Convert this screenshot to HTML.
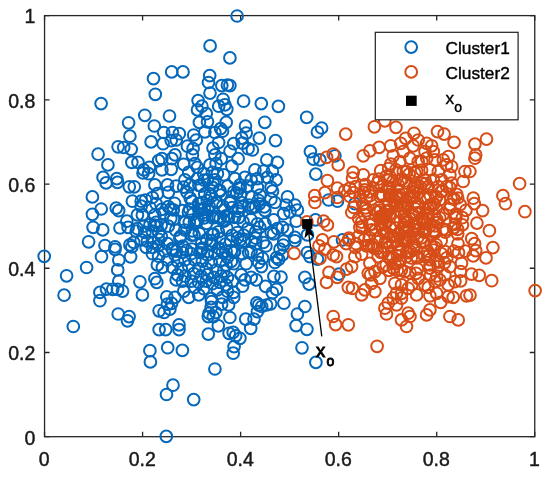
<!DOCTYPE html><html><head><meta charset="utf-8"><style>html,body{margin:0;padding:0;background:#fff;overflow:hidden}svg{display:block}</style></head><body><svg width="550" height="481" viewBox="0 0 550 481"><rect width="550" height="481" fill="#fff"/><g stroke="#262626" stroke-width="1.3" fill="none"><rect x="44.55" y="15.6" width="490.2" height="421.09999999999997"/><path d="M44.55 436.7v-5M44.55 15.6v5M44.55 436.70h5M534.75 436.70h-5M142.59 436.7v-5M142.59 15.6v5M44.55 352.48h5M534.75 352.48h-5M240.63 436.7v-5M240.63 15.6v5M44.55 268.26h5M534.75 268.26h-5M338.67 436.7v-5M338.67 15.6v5M44.55 184.04h5M534.75 184.04h-5M436.71 436.7v-5M436.71 15.6v5M44.55 99.82h5M534.75 99.82h-5M534.75 436.7v-5M534.75 15.6v5M44.55 15.60h5M534.75 15.60h-5"/></g><g fill="none" stroke="#0568BA" stroke-width="2.0"><circle cx="101.1" cy="103.6" r="5.85"/><circle cx="153.5" cy="78.6" r="5.85"/><circle cx="155.3" cy="94.3" r="5.85"/><circle cx="144.8" cy="115.3" r="5.85"/><circle cx="128.6" cy="122.8" r="5.85"/><circle cx="154.3" cy="126.0" r="5.85"/><circle cx="237.1" cy="16.0" r="5.85"/><circle cx="210.1" cy="45.9" r="5.85"/><circle cx="229.9" cy="57.9" r="5.85"/><circle cx="171.7" cy="71.9" r="5.85"/><circle cx="183.0" cy="71.9" r="5.85"/><circle cx="169.5" cy="116.0" r="5.85"/><circle cx="261.3" cy="103.6" r="5.85"/><circle cx="278.4" cy="106.4" r="5.85"/><circle cx="264.8" cy="122.3" r="5.85"/><circle cx="209.7" cy="75.6" r="5.85"/><circle cx="208.5" cy="82.5" r="5.85"/><circle cx="221.8" cy="85.6" r="5.85"/><circle cx="227.4" cy="85.0" r="5.85"/><circle cx="229.9" cy="85.6" r="5.85"/><circle cx="210.0" cy="93.1" r="5.85"/><circle cx="223.1" cy="99.3" r="5.85"/><circle cx="198.1" cy="100.6" r="5.85"/><circle cx="243.6" cy="101.2" r="5.85"/><circle cx="218.7" cy="106.2" r="5.85"/><circle cx="224.9" cy="104.9" r="5.85"/><circle cx="226.8" cy="109.3" r="5.85"/><circle cx="201.9" cy="106.2" r="5.85"/><circle cx="197.5" cy="109.9" r="5.85"/><circle cx="206.2" cy="113.7" r="5.85"/><circle cx="199.4" cy="122.4" r="5.85"/><circle cx="207.5" cy="121.8" r="5.85"/><circle cx="226.2" cy="122.4" r="5.85"/><circle cx="220.6" cy="128.6" r="5.85"/><circle cx="245.5" cy="126.1" r="5.85"/><circle cx="306.7" cy="117.3" r="5.85"/><circle cx="98.1" cy="154.2" r="5.85"/><circle cx="92.4" cy="196.9" r="5.85"/><circle cx="92.4" cy="214.3" r="5.85"/><circle cx="101.2" cy="209.0" r="5.85"/><circle cx="93.1" cy="227.3" r="5.85"/><circle cx="102.7" cy="229.9" r="5.85"/><circle cx="88.6" cy="241.8" r="5.85"/><circle cx="103.1" cy="177.4" r="5.85"/><circle cx="106.1" cy="182.9" r="5.85"/><circle cx="107.9" cy="164.9" r="5.85"/><circle cx="129.9" cy="136.2" r="5.85"/><circle cx="151.1" cy="141.9" r="5.85"/><circle cx="118.1" cy="146.8" r="5.85"/><circle cx="123.7" cy="147.5" r="5.85"/><circle cx="131.2" cy="149.3" r="5.85"/><circle cx="131.8" cy="162.4" r="5.85"/><circle cx="138.0" cy="162.4" r="5.85"/><circle cx="143.7" cy="169.9" r="5.85"/><circle cx="149.3" cy="167.4" r="5.85"/><circle cx="158.6" cy="160.6" r="5.85"/><circle cx="143.0" cy="173.0" r="5.85"/><circle cx="116.8" cy="178.6" r="5.85"/><circle cx="117.5" cy="182.4" r="5.85"/><circle cx="129.3" cy="186.8" r="5.85"/><circle cx="134.3" cy="186.8" r="5.85"/><circle cx="154.9" cy="184.9" r="5.85"/><circle cx="148.6" cy="173.7" r="5.85"/><circle cx="116.2" cy="208.1" r="5.85"/><circle cx="118.7" cy="210.6" r="5.85"/><circle cx="126.8" cy="221.2" r="5.85"/><circle cx="120.0" cy="228.0" r="5.85"/><circle cx="128.1" cy="227.4" r="5.85"/><circle cx="105.0" cy="245.5" r="5.85"/><circle cx="115.0" cy="246.8" r="5.85"/><circle cx="132.4" cy="201.2" r="5.85"/><circle cx="141.2" cy="201.2" r="5.85"/><circle cx="145.5" cy="200.0" r="5.85"/><circle cx="152.4" cy="197.5" r="5.85"/><circle cx="157.4" cy="193.7" r="5.85"/><circle cx="137.4" cy="214.9" r="5.85"/><circle cx="142.4" cy="214.9" r="5.85"/><circle cx="141.2" cy="206.2" r="5.85"/><circle cx="149.9" cy="207.5" r="5.85"/><circle cx="156.1" cy="203.7" r="5.85"/><circle cx="154.9" cy="214.9" r="5.85"/><circle cx="137.4" cy="228.7" r="5.85"/><circle cx="143.7" cy="226.2" r="5.85"/><circle cx="149.9" cy="224.9" r="5.85"/><circle cx="156.1" cy="222.4" r="5.85"/><circle cx="136.2" cy="231.2" r="5.85"/><circle cx="144.9" cy="232.4" r="5.85"/><circle cx="152.4" cy="231.2" r="5.85"/><circle cx="158.6" cy="232.4" r="5.85"/><circle cx="133.7" cy="242.4" r="5.85"/><circle cx="129.9" cy="244.9" r="5.85"/><circle cx="141.2" cy="239.9" r="5.85"/><circle cx="147.4" cy="241.1" r="5.85"/><circle cx="153.6" cy="242.4" r="5.85"/><circle cx="158.6" cy="245.6" r="5.85"/><circle cx="146.2" cy="247.4" r="5.85"/><circle cx="163.7" cy="132.5" r="5.85"/><circle cx="172.5" cy="132.5" r="5.85"/><circle cx="179.3" cy="133.7" r="5.85"/><circle cx="171.2" cy="140.6" r="5.85"/><circle cx="176.2" cy="140.0" r="5.85"/><circle cx="163.1" cy="143.7" r="5.85"/><circle cx="193.7" cy="135.0" r="5.85"/><circle cx="196.2" cy="140.0" r="5.85"/><circle cx="204.9" cy="131.9" r="5.85"/><circle cx="214.9" cy="132.5" r="5.85"/><circle cx="218.6" cy="142.5" r="5.85"/><circle cx="213.0" cy="148.1" r="5.85"/><circle cx="214.9" cy="154.9" r="5.85"/><circle cx="187.4" cy="146.2" r="5.85"/><circle cx="193.1" cy="148.7" r="5.85"/><circle cx="192.4" cy="154.9" r="5.85"/><circle cx="175.0" cy="154.9" r="5.85"/><circle cx="171.9" cy="158.7" r="5.85"/><circle cx="161.9" cy="158.7" r="5.85"/><circle cx="183.7" cy="164.3" r="5.85"/><circle cx="171.2" cy="169.3" r="5.85"/><circle cx="161.9" cy="169.9" r="5.85"/><circle cx="194.9" cy="163.7" r="5.85"/><circle cx="197.4" cy="167.4" r="5.85"/><circle cx="209.9" cy="164.9" r="5.85"/><circle cx="216.1" cy="163.7" r="5.85"/><circle cx="188.7" cy="172.4" r="5.85"/><circle cx="203.7" cy="173.7" r="5.85"/><circle cx="212.4" cy="172.4" r="5.85"/><circle cx="217.4" cy="173.7" r="5.85"/><circle cx="184.9" cy="179.9" r="5.85"/><circle cx="197.4" cy="178.6" r="5.85"/><circle cx="207.4" cy="179.9" r="5.85"/><circle cx="214.9" cy="179.9" r="5.85"/><circle cx="167.5" cy="184.9" r="5.85"/><circle cx="176.2" cy="186.1" r="5.85"/><circle cx="189.9" cy="184.9" r="5.85"/><circle cx="201.2" cy="186.1" r="5.85"/><circle cx="212.4" cy="187.4" r="5.85"/><circle cx="222.5" cy="131.2" r="5.85"/><circle cx="233.7" cy="143.7" r="5.85"/><circle cx="230.0" cy="151.2" r="5.85"/><circle cx="241.8" cy="138.1" r="5.85"/><circle cx="246.2" cy="133.1" r="5.85"/><circle cx="242.5" cy="143.1" r="5.85"/><circle cx="248.1" cy="148.7" r="5.85"/><circle cx="252.4" cy="150.0" r="5.85"/><circle cx="259.3" cy="138.1" r="5.85"/><circle cx="275.5" cy="140.6" r="5.85"/><circle cx="238.1" cy="158.7" r="5.85"/><circle cx="221.2" cy="158.7" r="5.85"/><circle cx="231.9" cy="166.2" r="5.85"/><circle cx="266.8" cy="159.9" r="5.85"/><circle cx="277.4" cy="162.4" r="5.85"/><circle cx="254.9" cy="169.9" r="5.85"/><circle cx="263.7" cy="171.2" r="5.85"/><circle cx="272.4" cy="171.2" r="5.85"/><circle cx="223.7" cy="174.9" r="5.85"/><circle cx="235.0" cy="178.6" r="5.85"/><circle cx="244.9" cy="177.4" r="5.85"/><circle cx="251.2" cy="179.9" r="5.85"/><circle cx="257.4" cy="178.6" r="5.85"/><circle cx="267.4" cy="177.4" r="5.85"/><circle cx="276.1" cy="179.9" r="5.85"/><circle cx="227.5" cy="186.1" r="5.85"/><circle cx="240.0" cy="184.9" r="5.85"/><circle cx="247.4" cy="186.1" r="5.85"/><circle cx="257.4" cy="187.4" r="5.85"/><circle cx="271.1" cy="187.4" r="5.85"/><circle cx="317.4" cy="132.0" r="5.85"/><circle cx="321.6" cy="128.0" r="5.85"/><circle cx="310.4" cy="151.6" r="5.85"/><circle cx="313.3" cy="159.1" r="5.85"/><circle cx="319.9" cy="159.9" r="5.85"/><circle cx="334.9" cy="155.8" r="5.85"/><circle cx="315.8" cy="174.1" r="5.85"/><circle cx="272.5" cy="191.2" r="5.85"/><circle cx="287.5" cy="196.9" r="5.85"/><circle cx="275.0" cy="202.5" r="5.85"/><circle cx="286.2" cy="205.0" r="5.85"/><circle cx="294.9" cy="205.0" r="5.85"/><circle cx="297.4" cy="210.0" r="5.85"/><circle cx="283.7" cy="213.7" r="5.85"/><circle cx="290.0" cy="211.8" r="5.85"/><circle cx="273.7" cy="219.9" r="5.85"/><circle cx="282.5" cy="227.4" r="5.85"/><circle cx="277.5" cy="228.7" r="5.85"/><circle cx="296.2" cy="221.2" r="5.85"/><circle cx="315.5" cy="219.9" r="5.85"/><circle cx="307.4" cy="234.9" r="5.85"/><circle cx="294.9" cy="237.4" r="5.85"/><circle cx="283.7" cy="241.1" r="5.85"/><circle cx="271.2" cy="232.4" r="5.85"/><circle cx="328.6" cy="200.0" r="5.85"/><circle cx="44.2" cy="256.3" r="5.85"/><circle cx="66.6" cy="275.8" r="5.85"/><circle cx="86.6" cy="267.5" r="5.85"/><circle cx="64.1" cy="295.2" r="5.85"/><circle cx="101.5" cy="256.7" r="5.85"/><circle cx="118.8" cy="260.0" r="5.85"/><circle cx="117.7" cy="269.9" r="5.85"/><circle cx="118.8" cy="281.1" r="5.85"/><circle cx="99.9" cy="292.4" r="5.85"/><circle cx="106.5" cy="289.1" r="5.85"/><circle cx="112.8" cy="289.3" r="5.85"/><circle cx="99.9" cy="300.7" r="5.85"/><circle cx="118.2" cy="314.0" r="5.85"/><circle cx="73.3" cy="326.5" r="5.85"/><circle cx="115.0" cy="249.4" r="5.85"/><circle cx="122.5" cy="291.1" r="5.85"/><circle cx="117.5" cy="289.3" r="5.85"/><circle cx="131.8" cy="246.9" r="5.85"/><circle cx="130.6" cy="256.8" r="5.85"/><circle cx="139.9" cy="281.8" r="5.85"/><circle cx="142.4" cy="294.9" r="5.85"/><circle cx="154.9" cy="278.7" r="5.85"/><circle cx="156.8" cy="282.4" r="5.85"/><circle cx="152.4" cy="247.5" r="5.85"/><circle cx="152.4" cy="253.7" r="5.85"/><circle cx="158.6" cy="256.2" r="5.85"/><circle cx="157.4" cy="264.9" r="5.85"/><circle cx="162.4" cy="267.4" r="5.85"/><circle cx="167.4" cy="260.0" r="5.85"/><circle cx="164.9" cy="251.2" r="5.85"/><circle cx="167.4" cy="243.7" r="5.85"/><circle cx="166.8" cy="296.8" r="5.85"/><circle cx="233.7" cy="252.5" r="5.85"/><circle cx="242.5" cy="253.7" r="5.85"/><circle cx="248.7" cy="252.5" r="5.85"/><circle cx="257.4" cy="255.0" r="5.85"/><circle cx="233.7" cy="263.7" r="5.85"/><circle cx="246.2" cy="263.7" r="5.85"/><circle cx="258.7" cy="262.5" r="5.85"/><circle cx="261.4" cy="266.6" r="5.85"/><circle cx="274.9" cy="262.5" r="5.85"/><circle cx="278.6" cy="259.4" r="5.85"/><circle cx="282.4" cy="255.0" r="5.85"/><circle cx="241.2" cy="274.9" r="5.85"/><circle cx="245.0" cy="279.9" r="5.85"/><circle cx="251.2" cy="277.4" r="5.85"/><circle cx="256.2" cy="279.9" r="5.85"/><circle cx="242.5" cy="286.2" r="5.85"/><circle cx="232.5" cy="281.2" r="5.85"/><circle cx="273.9" cy="276.4" r="5.85"/><circle cx="281.0" cy="277.1" r="5.85"/><circle cx="265.6" cy="286.4" r="5.85"/><circle cx="276.4" cy="289.3" r="5.85"/><circle cx="272.4" cy="292.8" r="5.85"/><circle cx="233.7" cy="292.4" r="5.85"/><circle cx="233.7" cy="297.4" r="5.85"/><circle cx="256.8" cy="302.9" r="5.85"/><circle cx="258.7" cy="304.9" r="5.85"/><circle cx="270.6" cy="303.8" r="5.85"/><circle cx="283.9" cy="303.2" r="5.85"/><circle cx="175.0" cy="297.4" r="5.85"/><circle cx="183.7" cy="291.2" r="5.85"/><circle cx="188.7" cy="297.4" r="5.85"/><circle cx="198.7" cy="294.9" r="5.85"/><circle cx="211.2" cy="298.6" r="5.85"/><circle cx="222.4" cy="297.4" r="5.85"/><circle cx="227.4" cy="291.2" r="5.85"/><circle cx="228.6" cy="304.9" r="5.85"/><circle cx="211.2" cy="307.4" r="5.85"/><circle cx="129.1" cy="316.6" r="5.85"/><circle cx="127.5" cy="320.8" r="5.85"/><circle cx="159.1" cy="310.8" r="5.85"/><circle cx="164.1" cy="312.5" r="5.85"/><circle cx="169.9" cy="309.1" r="5.85"/><circle cx="167.4" cy="304.2" r="5.85"/><circle cx="171.6" cy="303.3" r="5.85"/><circle cx="159.1" cy="329.6" r="5.85"/><circle cx="165.7" cy="329.6" r="5.85"/><circle cx="179.0" cy="324.9" r="5.85"/><circle cx="179.0" cy="329.6" r="5.85"/><circle cx="149.9" cy="350.7" r="5.85"/><circle cx="150.4" cy="361.9" r="5.85"/><circle cx="167.7" cy="347.7" r="5.85"/><circle cx="182.4" cy="350.4" r="5.85"/><circle cx="211.6" cy="301.7" r="5.85"/><circle cx="221.6" cy="304.2" r="5.85"/><circle cx="209.1" cy="313.3" r="5.85"/><circle cx="215.8" cy="312.5" r="5.85"/><circle cx="208.3" cy="316.6" r="5.85"/><circle cx="213.3" cy="316.6" r="5.85"/><circle cx="229.9" cy="317.5" r="5.85"/><circle cx="218.3" cy="325.8" r="5.85"/><circle cx="208.3" cy="334.1" r="5.85"/><circle cx="229.1" cy="333.3" r="5.85"/><circle cx="233.2" cy="332.4" r="5.85"/><circle cx="235.7" cy="335.8" r="5.85"/><circle cx="239.9" cy="338.3" r="5.85"/><circle cx="234.1" cy="346.6" r="5.85"/><circle cx="233.2" cy="353.2" r="5.85"/><circle cx="245.7" cy="319.1" r="5.85"/><circle cx="254.0" cy="319.1" r="5.85"/><circle cx="250.7" cy="328.3" r="5.85"/><circle cx="257.4" cy="311.6" r="5.85"/><circle cx="266.5" cy="305.0" r="5.85"/><circle cx="214.9" cy="369.0" r="5.85"/><circle cx="263.3" cy="242.5" r="5.85"/><circle cx="283.3" cy="245.0" r="5.85"/><circle cx="280.0" cy="249.1" r="5.85"/><circle cx="294.9" cy="240.8" r="5.85"/><circle cx="307.4" cy="252.5" r="5.85"/><circle cx="309.9" cy="256.6" r="5.85"/><circle cx="317.4" cy="259.1" r="5.85"/><circle cx="276.6" cy="257.5" r="5.85"/><circle cx="262.5" cy="258.3" r="5.85"/><circle cx="304.9" cy="277.4" r="5.85"/><circle cx="309.1" cy="284.1" r="5.85"/><circle cx="261.7" cy="306.5" r="5.85"/><circle cx="304.9" cy="306.5" r="5.85"/><circle cx="297.4" cy="314.0" r="5.85"/><circle cx="339.0" cy="274.1" r="5.85"/><circle cx="296.1" cy="325.6" r="5.85"/><circle cx="306.9" cy="329.3" r="5.85"/><circle cx="302.0" cy="347.8" r="5.85"/><circle cx="315.9" cy="362.4" r="5.85"/><circle cx="173.0" cy="385.2" r="5.85"/><circle cx="166.5" cy="394.5" r="5.85"/><circle cx="193.7" cy="399.6" r="5.85"/><circle cx="166.3" cy="436.4" r="5.85"/><circle cx="337.5" cy="201.2" r="5.85"/><circle cx="354.9" cy="203.7" r="5.85"/><circle cx="342.5" cy="239.9" r="5.85"/><circle cx="175.0" cy="255.0" r="5.85"/><circle cx="182.5" cy="252.5" r="5.85"/><circle cx="191.2" cy="253.7" r="5.85"/><circle cx="199.9" cy="252.5" r="5.85"/><circle cx="207.4" cy="255.0" r="5.85"/><circle cx="214.9" cy="253.7" r="5.85"/><circle cx="222.4" cy="252.5" r="5.85"/><circle cx="227.4" cy="257.5" r="5.85"/><circle cx="177.5" cy="261.2" r="5.85"/><circle cx="185.0" cy="260.0" r="5.85"/><circle cx="194.9" cy="260.0" r="5.85"/><circle cx="202.4" cy="261.2" r="5.85"/><circle cx="211.2" cy="262.5" r="5.85"/><circle cx="219.9" cy="261.2" r="5.85"/><circle cx="226.1" cy="265.0" r="5.85"/><circle cx="172.5" cy="267.5" r="5.85"/><circle cx="181.2" cy="268.7" r="5.85"/><circle cx="188.7" cy="266.2" r="5.85"/><circle cx="198.7" cy="268.7" r="5.85"/><circle cx="206.2" cy="268.7" r="5.85"/><circle cx="216.2" cy="270.0" r="5.85"/><circle cx="223.6" cy="271.2" r="5.85"/><circle cx="177.5" cy="274.9" r="5.85"/><circle cx="185.0" cy="276.2" r="5.85"/><circle cx="193.7" cy="273.7" r="5.85"/><circle cx="201.2" cy="276.2" r="5.85"/><circle cx="207.4" cy="274.9" r="5.85"/><circle cx="213.7" cy="277.4" r="5.85"/><circle cx="221.1" cy="276.2" r="5.85"/><circle cx="227.4" cy="277.4" r="5.85"/><circle cx="176.2" cy="279.9" r="5.85"/><circle cx="182.5" cy="281.2" r="5.85"/><circle cx="191.2" cy="281.2" r="5.85"/><circle cx="198.7" cy="282.4" r="5.85"/><circle cx="206.2" cy="281.2" r="5.85"/><circle cx="212.4" cy="283.7" r="5.85"/><circle cx="219.9" cy="282.4" r="5.85"/><circle cx="226.1" cy="284.9" r="5.85"/><circle cx="194.9" cy="287.4" r="5.85"/><circle cx="203.7" cy="288.7" r="5.85"/><circle cx="217.4" cy="289.9" r="5.85"/><circle cx="154.2" cy="225.2" r="5.85"/><circle cx="161.9" cy="209.4" r="5.85"/><circle cx="163.8" cy="213.5" r="5.85"/><circle cx="156.3" cy="226.0" r="5.85"/><circle cx="161.2" cy="225.1" r="5.85"/><circle cx="161.3" cy="236.7" r="5.85"/><circle cx="158.7" cy="239.3" r="5.85"/><circle cx="168.4" cy="192.3" r="5.85"/><circle cx="174.5" cy="203.3" r="5.85"/><circle cx="170.6" cy="209.1" r="5.85"/><circle cx="168.3" cy="206.7" r="5.85"/><circle cx="173.3" cy="209.9" r="5.85"/><circle cx="170.8" cy="218.6" r="5.85"/><circle cx="173.5" cy="219.5" r="5.85"/><circle cx="168.3" cy="226.1" r="5.85"/><circle cx="175.7" cy="230.2" r="5.85"/><circle cx="179.9" cy="238.3" r="5.85"/><circle cx="172.0" cy="248.7" r="5.85"/><circle cx="176.5" cy="251.2" r="5.85"/><circle cx="173.1" cy="250.0" r="5.85"/><circle cx="183.6" cy="187.1" r="5.85"/><circle cx="190.2" cy="198.1" r="5.85"/><circle cx="187.1" cy="192.4" r="5.85"/><circle cx="189.6" cy="209.0" r="5.85"/><circle cx="182.1" cy="210.6" r="5.85"/><circle cx="188.4" cy="212.1" r="5.85"/><circle cx="185.3" cy="222.1" r="5.85"/><circle cx="189.3" cy="222.3" r="5.85"/><circle cx="184.7" cy="221.9" r="5.85"/><circle cx="180.5" cy="236.4" r="5.85"/><circle cx="191.8" cy="235.1" r="5.85"/><circle cx="184.7" cy="230.0" r="5.85"/><circle cx="191.8" cy="249.2" r="5.85"/><circle cx="186.5" cy="250.3" r="5.85"/><circle cx="182.8" cy="246.2" r="5.85"/><circle cx="198.9" cy="185.5" r="5.85"/><circle cx="198.6" cy="203.5" r="5.85"/><circle cx="192.1" cy="201.4" r="5.85"/><circle cx="201.8" cy="202.6" r="5.85"/><circle cx="201.7" cy="210.2" r="5.85"/><circle cx="198.7" cy="209.1" r="5.85"/><circle cx="192.7" cy="214.4" r="5.85"/><circle cx="194.4" cy="222.1" r="5.85"/><circle cx="197.8" cy="220.3" r="5.85"/><circle cx="196.2" cy="222.5" r="5.85"/><circle cx="199.3" cy="233.5" r="5.85"/><circle cx="192.3" cy="230.8" r="5.85"/><circle cx="194.1" cy="235.0" r="5.85"/><circle cx="201.6" cy="249.6" r="5.85"/><circle cx="201.8" cy="243.1" r="5.85"/><circle cx="202.1" cy="248.1" r="5.85"/><circle cx="204.2" cy="180.2" r="5.85"/><circle cx="213.1" cy="183.0" r="5.85"/><circle cx="211.5" cy="196.1" r="5.85"/><circle cx="204.8" cy="193.9" r="5.85"/><circle cx="210.3" cy="194.0" r="5.85"/><circle cx="207.3" cy="200.5" r="5.85"/><circle cx="207.9" cy="209.7" r="5.85"/><circle cx="204.3" cy="208.6" r="5.85"/><circle cx="209.1" cy="206.3" r="5.85"/><circle cx="205.3" cy="214.8" r="5.85"/><circle cx="206.5" cy="223.3" r="5.85"/><circle cx="213.8" cy="216.2" r="5.85"/><circle cx="204.2" cy="217.8" r="5.85"/><circle cx="212.6" cy="217.9" r="5.85"/><circle cx="212.1" cy="234.5" r="5.85"/><circle cx="206.6" cy="239.7" r="5.85"/><circle cx="213.6" cy="234.2" r="5.85"/><circle cx="211.8" cy="244.7" r="5.85"/><circle cx="210.9" cy="243.9" r="5.85"/><circle cx="211.6" cy="240.7" r="5.85"/><circle cx="207.6" cy="251.6" r="5.85"/><circle cx="219.7" cy="190.3" r="5.85"/><circle cx="219.7" cy="191.3" r="5.85"/><circle cx="221.0" cy="195.0" r="5.85"/><circle cx="216.1" cy="202.5" r="5.85"/><circle cx="216.5" cy="201.8" r="5.85"/><circle cx="222.8" cy="206.1" r="5.85"/><circle cx="226.4" cy="215.7" r="5.85"/><circle cx="224.4" cy="210.1" r="5.85"/><circle cx="220.2" cy="218.5" r="5.85"/><circle cx="224.1" cy="221.2" r="5.85"/><circle cx="218.3" cy="217.3" r="5.85"/><circle cx="224.0" cy="219.6" r="5.85"/><circle cx="219.9" cy="238.5" r="5.85"/><circle cx="226.8" cy="228.2" r="5.85"/><circle cx="218.4" cy="231.9" r="5.85"/><circle cx="225.4" cy="244.1" r="5.85"/><circle cx="218.6" cy="248.1" r="5.85"/><circle cx="226.1" cy="251.2" r="5.85"/><circle cx="238.6" cy="188.2" r="5.85"/><circle cx="233.8" cy="191.8" r="5.85"/><circle cx="236.7" cy="193.0" r="5.85"/><circle cx="230.0" cy="202.9" r="5.85"/><circle cx="230.6" cy="201.1" r="5.85"/><circle cx="238.1" cy="208.4" r="5.85"/><circle cx="232.1" cy="207.5" r="5.85"/><circle cx="238.4" cy="211.2" r="5.85"/><circle cx="238.6" cy="217.6" r="5.85"/><circle cx="234.6" cy="217.3" r="5.85"/><circle cx="228.5" cy="216.9" r="5.85"/><circle cx="237.5" cy="237.9" r="5.85"/><circle cx="232.1" cy="235.4" r="5.85"/><circle cx="237.4" cy="232.5" r="5.85"/><circle cx="230.7" cy="241.0" r="5.85"/><circle cx="231.2" cy="250.7" r="5.85"/><circle cx="234.8" cy="251.1" r="5.85"/><circle cx="231.3" cy="261.4" r="5.85"/><circle cx="240.1" cy="188.0" r="5.85"/><circle cx="241.4" cy="202.6" r="5.85"/><circle cx="240.5" cy="194.9" r="5.85"/><circle cx="251.9" cy="197.1" r="5.85"/><circle cx="242.0" cy="206.9" r="5.85"/><circle cx="248.9" cy="205.2" r="5.85"/><circle cx="250.9" cy="208.5" r="5.85"/><circle cx="250.9" cy="219.5" r="5.85"/><circle cx="243.0" cy="221.7" r="5.85"/><circle cx="247.8" cy="228.5" r="5.85"/><circle cx="240.1" cy="239.8" r="5.85"/><circle cx="243.5" cy="235.2" r="5.85"/><circle cx="243.8" cy="240.8" r="5.85"/><circle cx="251.0" cy="251.6" r="5.85"/><circle cx="251.6" cy="241.3" r="5.85"/><circle cx="259.4" cy="203.8" r="5.85"/><circle cx="258.5" cy="200.3" r="5.85"/><circle cx="259.9" cy="195.1" r="5.85"/><circle cx="255.7" cy="207.0" r="5.85"/><circle cx="253.0" cy="207.4" r="5.85"/><circle cx="257.4" cy="223.8" r="5.85"/><circle cx="259.7" cy="227.3" r="5.85"/><circle cx="255.7" cy="231.9" r="5.85"/><circle cx="255.8" cy="238.2" r="5.85"/><circle cx="255.6" cy="244.0" r="5.85"/><circle cx="270.9" cy="199.2" r="5.85"/><circle cx="264.2" cy="206.9" r="5.85"/><circle cx="264.9" cy="210.6" r="5.85"/><circle cx="264.9" cy="223.6" r="5.85"/><circle cx="273.5" cy="233.9" r="5.85"/><circle cx="265.9" cy="246.0" r="5.85"/><circle cx="287.4" cy="230.1" r="5.85"/></g><g fill="none" stroke="#D74D17" stroke-width="2.0"><circle cx="345.7" cy="134.1" r="5.85"/><circle cx="326.6" cy="157.4" r="5.85"/><circle cx="333.2" cy="154.1" r="5.85"/><circle cx="338.2" cy="164.9" r="5.85"/><circle cx="327.4" cy="180.7" r="5.85"/><circle cx="353.2" cy="172.4" r="5.85"/><circle cx="314.7" cy="195.6" r="5.85"/><circle cx="324.9" cy="192.6" r="5.85"/><circle cx="337.4" cy="188.2" r="5.85"/><circle cx="344.9" cy="190.6" r="5.85"/><circle cx="349.9" cy="188.2" r="5.85"/><circle cx="355.7" cy="186.5" r="5.85"/><circle cx="314.9" cy="202.5" r="5.85"/><circle cx="323.6" cy="221.2" r="5.85"/><circle cx="327.4" cy="224.9" r="5.85"/><circle cx="306.9" cy="221.9" r="5.85"/><circle cx="322.4" cy="239.9" r="5.85"/><circle cx="294.1" cy="253.3" r="5.85"/><circle cx="319.0" cy="245.8" r="5.85"/><circle cx="324.9" cy="249.1" r="5.85"/><circle cx="333.9" cy="241.8" r="5.85"/><circle cx="319.9" cy="258.3" r="5.85"/><circle cx="333.2" cy="255.0" r="5.85"/><circle cx="336.5" cy="256.6" r="5.85"/><circle cx="329.0" cy="272.4" r="5.85"/><circle cx="326.5" cy="282.4" r="5.85"/><circle cx="337.3" cy="277.4" r="5.85"/><circle cx="333.2" cy="316.5" r="5.85"/><circle cx="335.6" cy="324.6" r="5.85"/><circle cx="414.0" cy="133.3" r="5.85"/><circle cx="363.3" cy="155.8" r="5.85"/><circle cx="369.9" cy="150.8" r="5.85"/><circle cx="379.1" cy="147.4" r="5.85"/><circle cx="390.7" cy="145.8" r="5.85"/><circle cx="400.7" cy="143.3" r="5.85"/><circle cx="405.7" cy="138.3" r="5.85"/><circle cx="413.2" cy="145.8" r="5.85"/><circle cx="418.2" cy="140.0" r="5.85"/><circle cx="393.2" cy="155.8" r="5.85"/><circle cx="403.2" cy="151.6" r="5.85"/><circle cx="409.9" cy="158.3" r="5.85"/><circle cx="390.7" cy="164.1" r="5.85"/><circle cx="399.9" cy="161.6" r="5.85"/><circle cx="380.7" cy="170.7" r="5.85"/><circle cx="352.5" cy="178.2" r="5.85"/><circle cx="363.3" cy="174.9" r="5.85"/><circle cx="373.3" cy="179.9" r="5.85"/><circle cx="389.9" cy="176.5" r="5.85"/><circle cx="396.5" cy="173.2" r="5.85"/><circle cx="406.5" cy="171.6" r="5.85"/><circle cx="414.8" cy="173.2" r="5.85"/><circle cx="418.2" cy="161.6" r="5.85"/><circle cx="364.9" cy="189.9" r="5.85"/><circle cx="373.3" cy="188.2" r="5.85"/><circle cx="381.6" cy="186.5" r="5.85"/><circle cx="389.9" cy="188.2" r="5.85"/><circle cx="398.2" cy="184.9" r="5.85"/><circle cx="406.5" cy="183.2" r="5.85"/><circle cx="414.8" cy="186.5" r="5.85"/><circle cx="350.0" cy="196.5" r="5.85"/><circle cx="360.0" cy="196.5" r="5.85"/><circle cx="369.9" cy="195.7" r="5.85"/><circle cx="379.9" cy="196.5" r="5.85"/><circle cx="389.9" cy="196.5" r="5.85"/><circle cx="399.9" cy="194.8" r="5.85"/><circle cx="409.9" cy="196.5" r="5.85"/><circle cx="418.2" cy="193.2" r="5.85"/><circle cx="437.5" cy="131.6" r="5.85"/><circle cx="444.1" cy="134.1" r="5.85"/><circle cx="454.1" cy="142.4" r="5.85"/><circle cx="474.9" cy="144.1" r="5.85"/><circle cx="486.5" cy="139.1" r="5.85"/><circle cx="475.7" cy="154.9" r="5.85"/><circle cx="474.9" cy="158.2" r="5.85"/><circle cx="426.7" cy="143.3" r="5.85"/><circle cx="431.6" cy="145.8" r="5.85"/><circle cx="425.0" cy="151.6" r="5.85"/><circle cx="433.3" cy="151.6" r="5.85"/><circle cx="426.7" cy="158.2" r="5.85"/><circle cx="435.0" cy="159.9" r="5.85"/><circle cx="448.3" cy="156.6" r="5.85"/><circle cx="443.3" cy="159.9" r="5.85"/><circle cx="421.7" cy="161.6" r="5.85"/><circle cx="446.6" cy="164.9" r="5.85"/><circle cx="451.6" cy="166.5" r="5.85"/><circle cx="430.0" cy="169.9" r="5.85"/><circle cx="438.3" cy="171.5" r="5.85"/><circle cx="464.9" cy="171.5" r="5.85"/><circle cx="469.9" cy="171.5" r="5.85"/><circle cx="463.2" cy="181.5" r="5.85"/><circle cx="449.9" cy="174.9" r="5.85"/><circle cx="425.0" cy="179.9" r="5.85"/><circle cx="433.3" cy="179.9" r="5.85"/><circle cx="441.6" cy="179.9" r="5.85"/><circle cx="451.6" cy="183.2" r="5.85"/><circle cx="428.3" cy="186.5" r="5.85"/><circle cx="438.3" cy="186.5" r="5.85"/><circle cx="446.6" cy="186.5" r="5.85"/><circle cx="421.7" cy="183.2" r="5.85"/><circle cx="519.6" cy="183.7" r="5.85"/><circle cx="502.9" cy="195.7" r="5.85"/><circle cx="473.3" cy="198.2" r="5.85"/><circle cx="337.5" cy="197.5" r="5.85"/><circle cx="351.8" cy="212.5" r="5.85"/><circle cx="353.7" cy="207.5" r="5.85"/><circle cx="348.7" cy="239.9" r="5.85"/><circle cx="346.2" cy="243.6" r="5.85"/><circle cx="358.7" cy="218.7" r="5.85"/><circle cx="359.9" cy="227.4" r="5.85"/><circle cx="358.7" cy="236.2" r="5.85"/><circle cx="353.7" cy="192.5" r="5.85"/><circle cx="346.6" cy="269.1" r="5.85"/><circle cx="351.6" cy="266.6" r="5.85"/><circle cx="352.5" cy="288.3" r="5.85"/><circle cx="348.3" cy="287.4" r="5.85"/><circle cx="361.6" cy="294.9" r="5.85"/><circle cx="361.6" cy="254.2" r="5.85"/><circle cx="369.9" cy="263.3" r="5.85"/><circle cx="368.3" cy="273.3" r="5.85"/><circle cx="374.9" cy="271.6" r="5.85"/><circle cx="371.6" cy="283.3" r="5.85"/><circle cx="374.9" cy="291.6" r="5.85"/><circle cx="364.9" cy="289.9" r="5.85"/><circle cx="379.9" cy="278.3" r="5.85"/><circle cx="383.2" cy="266.6" r="5.85"/><circle cx="388.2" cy="256.7" r="5.85"/><circle cx="378.2" cy="256.7" r="5.85"/><circle cx="393.2" cy="268.3" r="5.85"/><circle cx="399.9" cy="261.6" r="5.85"/><circle cx="406.5" cy="256.7" r="5.85"/><circle cx="404.8" cy="271.6" r="5.85"/><circle cx="394.9" cy="283.3" r="5.85"/><circle cx="401.5" cy="284.9" r="5.85"/><circle cx="408.2" cy="288.3" r="5.85"/><circle cx="396.5" cy="293.2" r="5.85"/><circle cx="393.2" cy="298.2" r="5.85"/><circle cx="401.5" cy="298.2" r="5.85"/><circle cx="388.2" cy="303.2" r="5.85"/><circle cx="384.9" cy="308.2" r="5.85"/><circle cx="386.5" cy="314.0" r="5.85"/><circle cx="396.5" cy="304.9" r="5.85"/><circle cx="408.2" cy="313.2" r="5.85"/><circle cx="401.5" cy="319.9" r="5.85"/><circle cx="406.5" cy="326.5" r="5.85"/><circle cx="348.3" cy="324.8" r="5.85"/><circle cx="354.9" cy="256.7" r="5.85"/><circle cx="471.5" cy="274.1" r="5.85"/><circle cx="479.2" cy="275.3" r="5.85"/><circle cx="460.7" cy="280.8" r="5.85"/><circle cx="466.5" cy="295.8" r="5.85"/><circle cx="449.9" cy="316.5" r="5.85"/><circle cx="458.2" cy="319.9" r="5.85"/><circle cx="426.6" cy="314.9" r="5.85"/><circle cx="429.9" cy="309.9" r="5.85"/><circle cx="418.3" cy="278.3" r="5.85"/><circle cx="424.9" cy="284.9" r="5.85"/><circle cx="434.9" cy="281.6" r="5.85"/><circle cx="439.9" cy="280.0" r="5.85"/><circle cx="444.9" cy="275.0" r="5.85"/><circle cx="448.2" cy="284.9" r="5.85"/><circle cx="454.9" cy="281.6" r="5.85"/><circle cx="416.6" cy="294.9" r="5.85"/><circle cx="429.9" cy="295.8" r="5.85"/><circle cx="436.6" cy="293.3" r="5.85"/><circle cx="440.7" cy="302.4" r="5.85"/><circle cx="448.2" cy="296.6" r="5.85"/><circle cx="453.2" cy="297.4" r="5.85"/><circle cx="410.0" cy="316.5" r="5.85"/><circle cx="429.9" cy="265.0" r="5.85"/><circle cx="438.3" cy="266.7" r="5.85"/><circle cx="449.9" cy="266.7" r="5.85"/><circle cx="461.5" cy="263.3" r="5.85"/><circle cx="411.6" cy="284.9" r="5.85"/><circle cx="401.7" cy="293.3" r="5.85"/><circle cx="505.4" cy="203.7" r="5.85"/><circle cx="524.9" cy="211.7" r="5.85"/><circle cx="474.3" cy="203.6" r="5.85"/><circle cx="482.6" cy="210.6" r="5.85"/><circle cx="476.9" cy="223.1" r="5.85"/><circle cx="489.4" cy="230.7" r="5.85"/><circle cx="471.7" cy="238.7" r="5.85"/><circle cx="474.6" cy="243.7" r="5.85"/><circle cx="475.7" cy="250.6" r="5.85"/><circle cx="492.9" cy="247.6" r="5.85"/><circle cx="486.0" cy="257.9" r="5.85"/><circle cx="473.2" cy="255.9" r="5.85"/><circle cx="491.7" cy="280.7" r="5.85"/><circle cx="535.1" cy="290.6" r="5.85"/><circle cx="470.0" cy="295.1" r="5.85"/><circle cx="453.7" cy="198.7" r="5.85"/><circle cx="460.2" cy="204.6" r="5.85"/><circle cx="462.4" cy="224.9" r="5.85"/><circle cx="462.4" cy="217.7" r="5.85"/><circle cx="453.7" cy="227.8" r="5.85"/><circle cx="458.0" cy="243.8" r="5.85"/><circle cx="465.3" cy="251.1" r="5.85"/><circle cx="453.7" cy="251.1" r="5.85"/><circle cx="374.4" cy="126.8" r="5.85"/><circle cx="384.8" cy="120.8" r="5.85"/><circle cx="396.0" cy="127.3" r="5.85"/><circle cx="377.1" cy="346.3" r="5.85"/><circle cx="349.0" cy="238.0" r="5.85"/><circle cx="356.0" cy="243.7" r="5.85"/><circle cx="355.3" cy="247.3" r="5.85"/><circle cx="365.2" cy="184.7" r="5.85"/><circle cx="368.7" cy="191.9" r="5.85"/><circle cx="366.5" cy="197.3" r="5.85"/><circle cx="363.2" cy="192.4" r="5.85"/><circle cx="365.6" cy="207.8" r="5.85"/><circle cx="364.6" cy="214.7" r="5.85"/><circle cx="366.3" cy="210.7" r="5.85"/><circle cx="362.8" cy="204.3" r="5.85"/><circle cx="361.6" cy="222.1" r="5.85"/><circle cx="372.0" cy="224.1" r="5.85"/><circle cx="362.2" cy="226.7" r="5.85"/><circle cx="369.6" cy="224.8" r="5.85"/><circle cx="369.2" cy="237.5" r="5.85"/><circle cx="364.2" cy="239.8" r="5.85"/><circle cx="371.5" cy="229.9" r="5.85"/><circle cx="368.6" cy="245.5" r="5.85"/><circle cx="366.4" cy="245.9" r="5.85"/><circle cx="371.1" cy="246.0" r="5.85"/><circle cx="370.6" cy="274.8" r="5.85"/><circle cx="378.8" cy="179.0" r="5.85"/><circle cx="377.8" cy="182.7" r="5.85"/><circle cx="380.4" cy="194.0" r="5.85"/><circle cx="382.9" cy="195.2" r="5.85"/><circle cx="382.9" cy="195.7" r="5.85"/><circle cx="380.5" cy="210.1" r="5.85"/><circle cx="378.2" cy="211.8" r="5.85"/><circle cx="379.1" cy="207.7" r="5.85"/><circle cx="374.5" cy="210.1" r="5.85"/><circle cx="379.5" cy="216.9" r="5.85"/><circle cx="381.8" cy="224.7" r="5.85"/><circle cx="382.9" cy="218.3" r="5.85"/><circle cx="380.9" cy="216.7" r="5.85"/><circle cx="375.3" cy="230.7" r="5.85"/><circle cx="382.5" cy="229.3" r="5.85"/><circle cx="378.3" cy="238.2" r="5.85"/><circle cx="374.9" cy="230.5" r="5.85"/><circle cx="377.1" cy="248.6" r="5.85"/><circle cx="372.4" cy="244.3" r="5.85"/><circle cx="374.1" cy="248.1" r="5.85"/><circle cx="383.5" cy="252.3" r="5.85"/><circle cx="380.8" cy="252.3" r="5.85"/><circle cx="386.2" cy="176.3" r="5.85"/><circle cx="388.6" cy="168.5" r="5.85"/><circle cx="395.9" cy="169.8" r="5.85"/><circle cx="388.1" cy="187.4" r="5.85"/><circle cx="392.9" cy="181.4" r="5.85"/><circle cx="388.0" cy="180.4" r="5.85"/><circle cx="389.4" cy="189.2" r="5.85"/><circle cx="394.8" cy="201.1" r="5.85"/><circle cx="394.3" cy="200.5" r="5.85"/><circle cx="389.7" cy="194.7" r="5.85"/><circle cx="391.9" cy="195.8" r="5.85"/><circle cx="389.4" cy="214.5" r="5.85"/><circle cx="385.5" cy="211.0" r="5.85"/><circle cx="388.7" cy="210.2" r="5.85"/><circle cx="385.7" cy="215.5" r="5.85"/><circle cx="387.1" cy="211.3" r="5.85"/><circle cx="389.0" cy="204.2" r="5.85"/><circle cx="385.7" cy="216.7" r="5.85"/><circle cx="384.4" cy="217.9" r="5.85"/><circle cx="385.2" cy="223.6" r="5.85"/><circle cx="390.1" cy="227.8" r="5.85"/><circle cx="395.2" cy="227.9" r="5.85"/><circle cx="386.8" cy="221.3" r="5.85"/><circle cx="391.1" cy="235.5" r="5.85"/><circle cx="393.6" cy="236.5" r="5.85"/><circle cx="387.1" cy="233.1" r="5.85"/><circle cx="390.3" cy="228.1" r="5.85"/><circle cx="384.4" cy="232.9" r="5.85"/><circle cx="392.7" cy="242.9" r="5.85"/><circle cx="385.2" cy="242.2" r="5.85"/><circle cx="386.8" cy="242.6" r="5.85"/><circle cx="390.2" cy="245.6" r="5.85"/><circle cx="387.7" cy="247.7" r="5.85"/><circle cx="394.9" cy="263.6" r="5.85"/><circle cx="392.7" cy="257.2" r="5.85"/><circle cx="390.1" cy="259.0" r="5.85"/><circle cx="389.0" cy="270.3" r="5.85"/><circle cx="386.2" cy="265.1" r="5.85"/><circle cx="402.2" cy="179.1" r="5.85"/><circle cx="403.3" cy="171.5" r="5.85"/><circle cx="400.5" cy="180.2" r="5.85"/><circle cx="404.2" cy="181.2" r="5.85"/><circle cx="406.1" cy="200.1" r="5.85"/><circle cx="396.2" cy="197.4" r="5.85"/><circle cx="400.9" cy="197.8" r="5.85"/><circle cx="398.5" cy="199.1" r="5.85"/><circle cx="396.9" cy="195.4" r="5.85"/><circle cx="407.2" cy="204.9" r="5.85"/><circle cx="405.1" cy="206.3" r="5.85"/><circle cx="402.9" cy="208.7" r="5.85"/><circle cx="401.6" cy="213.0" r="5.85"/><circle cx="400.7" cy="205.5" r="5.85"/><circle cx="397.5" cy="205.0" r="5.85"/><circle cx="403.7" cy="227.5" r="5.85"/><circle cx="404.3" cy="216.3" r="5.85"/><circle cx="403.9" cy="225.3" r="5.85"/><circle cx="404.7" cy="222.0" r="5.85"/><circle cx="400.3" cy="221.5" r="5.85"/><circle cx="405.6" cy="219.2" r="5.85"/><circle cx="401.7" cy="239.5" r="5.85"/><circle cx="405.7" cy="239.2" r="5.85"/><circle cx="406.0" cy="231.6" r="5.85"/><circle cx="398.8" cy="233.9" r="5.85"/><circle cx="399.1" cy="233.1" r="5.85"/><circle cx="404.1" cy="239.0" r="5.85"/><circle cx="405.8" cy="241.2" r="5.85"/><circle cx="400.3" cy="252.0" r="5.85"/><circle cx="397.8" cy="245.0" r="5.85"/><circle cx="396.8" cy="241.0" r="5.85"/><circle cx="406.7" cy="251.9" r="5.85"/><circle cx="397.5" cy="255.6" r="5.85"/><circle cx="398.8" cy="260.0" r="5.85"/><circle cx="401.3" cy="270.3" r="5.85"/><circle cx="397.3" cy="270.5" r="5.85"/><circle cx="409.2" cy="174.2" r="5.85"/><circle cx="416.6" cy="171.1" r="5.85"/><circle cx="413.5" cy="188.4" r="5.85"/><circle cx="412.8" cy="191.9" r="5.85"/><circle cx="417.4" cy="186.9" r="5.85"/><circle cx="413.3" cy="192.4" r="5.85"/><circle cx="415.1" cy="202.6" r="5.85"/><circle cx="410.2" cy="198.1" r="5.85"/><circle cx="413.8" cy="196.9" r="5.85"/><circle cx="419.2" cy="212.5" r="5.85"/><circle cx="413.7" cy="215.5" r="5.85"/><circle cx="412.0" cy="212.9" r="5.85"/><circle cx="415.9" cy="213.1" r="5.85"/><circle cx="418.2" cy="206.7" r="5.85"/><circle cx="415.5" cy="208.8" r="5.85"/><circle cx="419.7" cy="223.6" r="5.85"/><circle cx="408.1" cy="221.6" r="5.85"/><circle cx="416.5" cy="226.6" r="5.85"/><circle cx="415.8" cy="225.8" r="5.85"/><circle cx="408.2" cy="227.3" r="5.85"/><circle cx="416.8" cy="223.3" r="5.85"/><circle cx="418.6" cy="229.2" r="5.85"/><circle cx="417.8" cy="237.2" r="5.85"/><circle cx="410.4" cy="236.9" r="5.85"/><circle cx="415.0" cy="230.3" r="5.85"/><circle cx="417.7" cy="229.7" r="5.85"/><circle cx="413.2" cy="243.0" r="5.85"/><circle cx="414.8" cy="245.6" r="5.85"/><circle cx="410.5" cy="251.6" r="5.85"/><circle cx="408.9" cy="240.0" r="5.85"/><circle cx="413.8" cy="250.0" r="5.85"/><circle cx="417.1" cy="257.8" r="5.85"/><circle cx="416.1" cy="256.0" r="5.85"/><circle cx="411.2" cy="258.0" r="5.85"/><circle cx="408.3" cy="253.0" r="5.85"/><circle cx="410.1" cy="273.0" r="5.85"/><circle cx="417.4" cy="268.9" r="5.85"/><circle cx="416.1" cy="273.4" r="5.85"/><circle cx="421.6" cy="170.0" r="5.85"/><circle cx="425.6" cy="183.5" r="5.85"/><circle cx="420.1" cy="186.7" r="5.85"/><circle cx="424.4" cy="198.5" r="5.85"/><circle cx="424.6" cy="197.3" r="5.85"/><circle cx="430.4" cy="195.7" r="5.85"/><circle cx="427.8" cy="197.8" r="5.85"/><circle cx="431.0" cy="204.9" r="5.85"/><circle cx="429.9" cy="207.7" r="5.85"/><circle cx="427.8" cy="213.6" r="5.85"/><circle cx="427.8" cy="208.7" r="5.85"/><circle cx="430.1" cy="205.1" r="5.85"/><circle cx="424.7" cy="222.4" r="5.85"/><circle cx="430.2" cy="225.6" r="5.85"/><circle cx="427.5" cy="219.7" r="5.85"/><circle cx="422.8" cy="221.5" r="5.85"/><circle cx="422.8" cy="219.3" r="5.85"/><circle cx="421.3" cy="237.8" r="5.85"/><circle cx="424.6" cy="232.4" r="5.85"/><circle cx="423.8" cy="228.9" r="5.85"/><circle cx="425.5" cy="230.0" r="5.85"/><circle cx="425.3" cy="231.5" r="5.85"/><circle cx="431.1" cy="245.3" r="5.85"/><circle cx="427.7" cy="251.2" r="5.85"/><circle cx="423.9" cy="241.2" r="5.85"/><circle cx="422.9" cy="242.3" r="5.85"/><circle cx="424.5" cy="256.3" r="5.85"/><circle cx="429.5" cy="254.8" r="5.85"/><circle cx="429.7" cy="259.6" r="5.85"/><circle cx="429.9" cy="268.1" r="5.85"/><circle cx="430.5" cy="275.1" r="5.85"/><circle cx="428.3" cy="287.4" r="5.85"/><circle cx="442.4" cy="191.2" r="5.85"/><circle cx="441.0" cy="191.7" r="5.85"/><circle cx="439.5" cy="200.0" r="5.85"/><circle cx="436.4" cy="196.7" r="5.85"/><circle cx="434.1" cy="203.5" r="5.85"/><circle cx="436.2" cy="197.7" r="5.85"/><circle cx="434.2" cy="215.5" r="5.85"/><circle cx="433.5" cy="204.3" r="5.85"/><circle cx="436.2" cy="208.3" r="5.85"/><circle cx="443.0" cy="214.6" r="5.85"/><circle cx="437.2" cy="222.5" r="5.85"/><circle cx="434.8" cy="226.0" r="5.85"/><circle cx="436.7" cy="219.4" r="5.85"/><circle cx="439.7" cy="217.8" r="5.85"/><circle cx="443.1" cy="229.1" r="5.85"/><circle cx="433.7" cy="230.5" r="5.85"/><circle cx="435.0" cy="233.0" r="5.85"/><circle cx="435.0" cy="232.1" r="5.85"/><circle cx="434.9" cy="247.3" r="5.85"/><circle cx="436.0" cy="244.5" r="5.85"/><circle cx="441.2" cy="240.7" r="5.85"/><circle cx="433.7" cy="250.2" r="5.85"/><circle cx="441.3" cy="253.6" r="5.85"/><circle cx="438.3" cy="262.1" r="5.85"/><circle cx="436.1" cy="261.2" r="5.85"/><circle cx="436.7" cy="276.0" r="5.85"/><circle cx="449.7" cy="187.4" r="5.85"/><circle cx="454.1" cy="199.2" r="5.85"/><circle cx="451.1" cy="198.5" r="5.85"/><circle cx="455.9" cy="214.1" r="5.85"/><circle cx="449.5" cy="208.9" r="5.85"/><circle cx="450.3" cy="204.6" r="5.85"/><circle cx="455.9" cy="217.5" r="5.85"/><circle cx="455.2" cy="224.2" r="5.85"/><circle cx="455.0" cy="216.9" r="5.85"/><circle cx="453.6" cy="228.1" r="5.85"/><circle cx="445.3" cy="232.2" r="5.85"/><circle cx="446.1" cy="229.8" r="5.85"/><circle cx="445.1" cy="251.7" r="5.85"/><circle cx="444.6" cy="262.8" r="5.85"/><circle cx="446.9" cy="257.8" r="5.85"/><circle cx="457.7" cy="198.0" r="5.85"/><circle cx="456.7" cy="194.4" r="5.85"/><circle cx="465.9" cy="210.3" r="5.85"/><circle cx="457.7" cy="233.9" r="5.85"/><circle cx="457.6" cy="229.4" r="5.85"/><circle cx="458.5" cy="252.6" r="5.85"/><circle cx="460.5" cy="271.5" r="5.85"/></g><g font-family="Liberation Sans, Arial, sans-serif" font-size="19" fill="#1a1a1a" stroke="#1a1a1a" stroke-width="0.45"><text x="44.15" y="465.5" text-anchor="middle" font-size="19.5">0</text><text x="35.3" y="444.50" text-anchor="end" font-size="19.5">0</text><text x="142.19" y="465.5" text-anchor="middle" font-size="19.5">0.2</text><text x="35.3" y="360.28" text-anchor="end" font-size="19.5">0.2</text><text x="240.23" y="465.5" text-anchor="middle" font-size="19.5">0.4</text><text x="35.3" y="276.06" text-anchor="end" font-size="19.5">0.4</text><text x="338.27" y="465.5" text-anchor="middle" font-size="19.5">0.6</text><text x="35.3" y="191.84" text-anchor="end" font-size="19.5">0.6</text><text x="436.31" y="465.5" text-anchor="middle" font-size="19.5">0.8</text><text x="35.3" y="107.62" text-anchor="end" font-size="19.5">0.8</text><text x="534.35" y="465.5" text-anchor="middle" font-size="19.5">1</text><text x="35.3" y="23.40" text-anchor="end" font-size="19.5">1</text></g><path d="M321.8 336.4L308.87 233.90" stroke="#000" stroke-width="1.3" fill="none"/><path d="M307.30 221.50L314.33 237.24L308.87 233.90L304.41 238.50Z" fill="#000"/><rect x="302.2" y="219.1" width="10.2" height="9.8" fill="#000"/><g font-family="Liberation Sans, Arial, sans-serif" fill="#000" stroke="#000" stroke-width="0.9"><text x="315.9" y="357" font-size="18.5">x</text><text x="326.4" y="366.3" font-size="14">o</text></g><rect x="375.3" y="32.3" width="142.8" height="87.5" fill="#fff" stroke="#1e1e1e" stroke-width="1.2"/><circle cx="411.2" cy="47.1" r="5.85" fill="none" stroke="#0568BA" stroke-width="2.0"/><circle cx="411.2" cy="71.9" r="5.85" fill="none" stroke="#D74D17" stroke-width="2.0"/><rect x="406" y="95.7" width="10.7" height="10.2" fill="#000"/><g font-family="Liberation Sans, Arial, sans-serif" font-size="17.3" fill="#000" stroke="#000" stroke-width="0.4"><text x="445.5" y="54.2">Cluster1</text><text x="445.5" y="78.8">Cluster2</text><text x="445.6" y="103.6">x</text><text x="454.3" y="112.1" font-size="14">o</text></g></svg></body></html>
